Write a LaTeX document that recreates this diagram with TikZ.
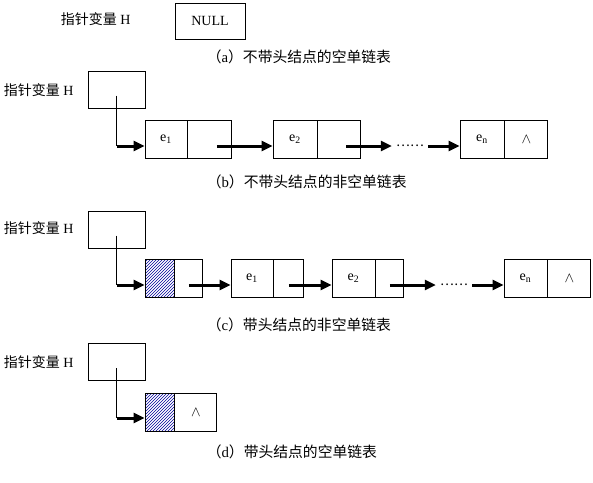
\documentclass[tikz,border=0pt]{standalone}
\usepackage{fontspec}
\setmainfont{Liberation Serif}
\newfontfamily\cjk{Noto Sans CJK SC}
\usetikzlibrary{patterns, arrows.meta, positioning}

\begin{document}
\begin{tikzpicture}[x=1pt, y=-1pt, line width=0.9pt,
    font=\fontsize{14}{16}\selectfont,
    ptrbox/.style={draw, minimum width=57pt, minimum height=37pt, inner sep=0pt},
    cell/.style={draw, minimum height=38pt, inner sep=0pt},
    headcell/.style={cell, pattern=north east lines, pattern color=blue!60!black},
    link/.style={line width=3pt, -{Triangle[length=11pt, width=10pt]}},
    dotsnode/.style={inner sep=4pt, font=\fontsize{13}{15}\selectfont\cjk},
    caption/.style={anchor=west, font=\fontsize{14.8}{17}\selectfont\cjk}]
    \useasboundingbox (0,0) rectangle (593,482);

    % (a) empty list without head node
    \node[anchor=west] (la) at (57,19) {{\cjk 指针变量} H};
    \node[ptrbox, minimum width=70pt, minimum height=36pt] (ha) at (210,21) {NULL};
    \node[caption] (ca) at (203,57) {（\textrm{a}）不带头结点的空单链表};

    % (b) non-empty list without head node
    \node[anchor=west] (lb) at (0,90) {{\cjk 指针变量} H};
    \node[ptrbox] (hb) at (116.5,89.5) {};
    \node[cell, minimum width=42pt] (b1d) at (166,139.5) {e\textsubscript{1}};
    \node[cell, minimum width=44pt, right=0pt of b1d] (b1n) {};
    \node[cell, minimum width=44pt] (b2d) at (295,139.5) {e\textsubscript{2}};
    \node[cell, minimum width=43pt, right=0pt of b2d] (b2n) {};
    \node[dotsnode] (bdots) at (410,146) {……};
    \node[cell, minimum width=44pt] (bnd) at (482,139.5) {e\textsubscript{n}};
    \node[cell, minimum width=43pt, right=0pt of bnd] (bnn) {$\wedge$};
    \node[caption] (cb) at (203,182) {（\textrm{b}）不带头结点的非空单链表};

    \coordinate (bturn) at ([yshift=-6.5pt]hb.center |- b1d.west);
    \draw ([yshift=-6pt]hb.center) -- (bturn);
    \draw[link] (bturn) -- ([yshift=-6.5pt]b1d.west);
    \draw[link] ([xshift=7pt, yshift=-6.5pt]b1n.center) -- ([yshift=-6.5pt]b2d.west);
    \draw[link] ([xshift=7pt, yshift=-6.5pt]b2n.center) -- (bdots);
    \draw[link] (bdots) -- ([yshift=-6.5pt]bnd.west);

    % (c) non-empty list with head node
    \node[anchor=west] (lc) at (0,228) {{\cjk 指针变量} H};
    \node[ptrbox] (hc) at (116.5,229.5) {};
    \node[headcell, minimum width=29pt] (c0d) at (159.5,278.5) {};
    \node[cell, minimum width=28pt, right=0pt of c0d] (c0n) {};
    \node[cell, minimum width=42pt] (c1d) at (252,278.5) {e\textsubscript{1}};
    \node[cell, minimum width=30pt, right=0pt of c1d] (c1n) {};
    \node[cell, minimum width=43pt] (c2d) at (353.5,278.5) {e\textsubscript{2}};
    \node[cell, minimum width=28pt, right=0pt of c2d] (c2n) {};
    \node[dotsnode] (cdots) at (454,285) {……};
    \node[cell, minimum width=43pt] (cnd) at (525.5,278.5) {e\textsubscript{n}};
    \node[cell, minimum width=43pt, right=0pt of cnd] (cnn) {$\wedge$};
    \node[caption] (cc) at (203,325) {（\textrm{c}）带头结点的非空单链表};

    \coordinate (cturn) at ([yshift=-6.5pt]hc.center |- c0d.west);
    \draw ([yshift=-6pt]hc.center) -- (cturn);
    \draw[link] (cturn) -- ([yshift=-6.5pt]c0d.west);
    \draw[link] ([yshift=-6.5pt]c0n.center) -- ([yshift=-6.5pt]c1d.west);
    \draw[link] ([yshift=-6.5pt]c1n.center) -- ([yshift=-6.5pt]c2d.west);
    \draw[link] ([yshift=-6.5pt]c2n.center) -- (cdots);
    \draw[link] (cdots) -- ([yshift=-6.5pt]cnd.west);

    % (d) empty list with head node
    \node[anchor=west] (ld) at (0,362) {{\cjk 指针变量} H};
    \node[ptrbox] (hd) at (116.5,362) {};
    \node[headcell, minimum width=29pt] (d0d) at (159.5,412) {};
    \node[cell, minimum width=42pt, right=0pt of d0d] (d0n) {$\wedge$};
    \node[caption] (cd) at (203,452) {（\textrm{d}）带头结点的空单链表};

    \coordinate (dturn) at ([yshift=-6pt]hd.center |- d0d.west);
    \draw ([yshift=-6pt]hd.center) -- (dturn);
    \draw[link] (dturn) -- ([yshift=-6pt]d0d.west);
\end{tikzpicture}
\end{document}
